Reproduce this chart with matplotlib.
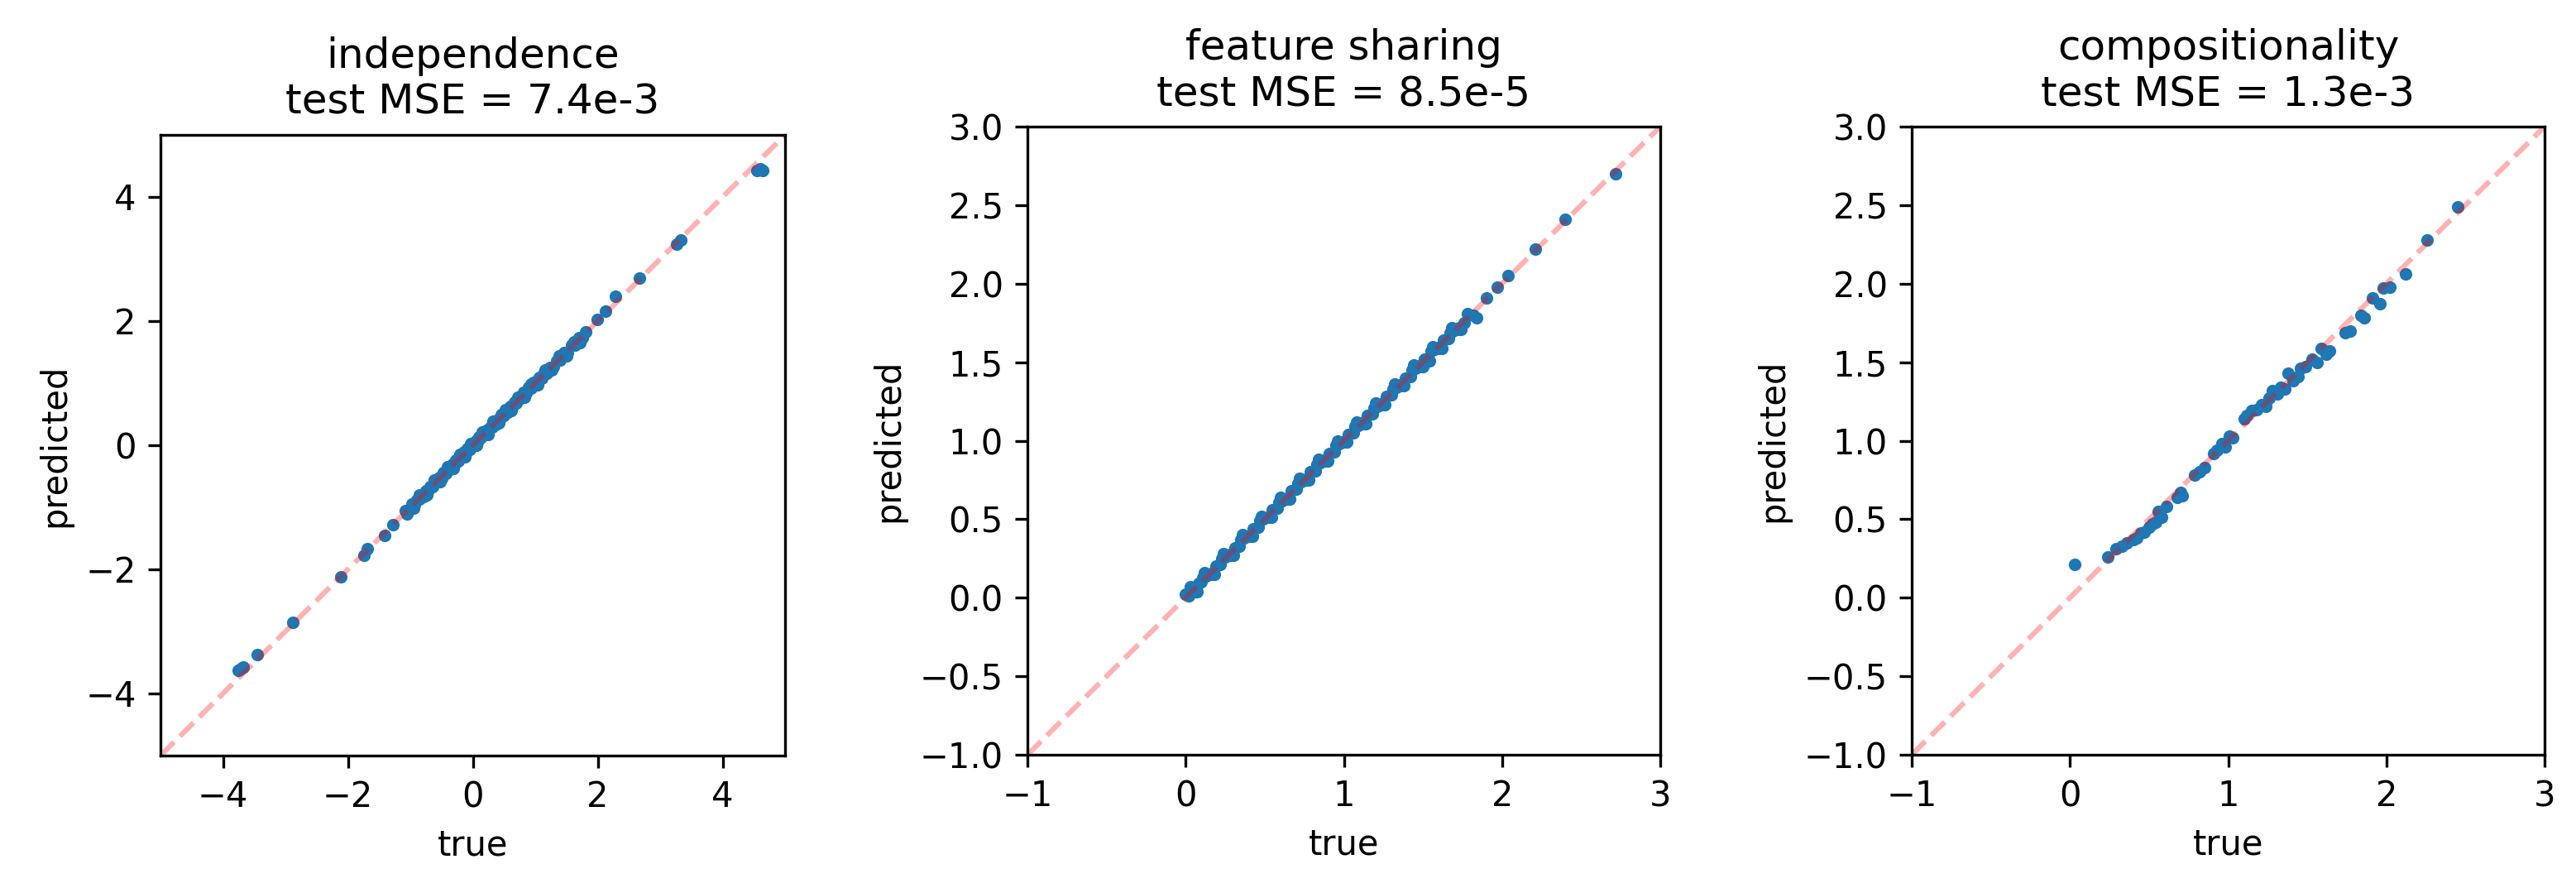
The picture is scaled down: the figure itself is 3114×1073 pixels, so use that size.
import matplotlib
matplotlib.use("Agg")
import matplotlib.pyplot as plt

titles = ["independence\ntest MSE = 7.4e-3",
          "feature sharing\ntest MSE = 8.5e-5",
          "compositionality\ntest MSE = 1.3e-3"]

true1 = [-3.76, -3.72, -3.68, -3.45, -2.88, -2.11, -1.74, -1.69, -1.41, -1.28,
         -1.08, -1.02, -0.97, -0.93, -0.90, -0.86, -0.83, -0.79, -0.75, -0.72,
         -0.68, -0.64, -0.61, -0.57, -0.54, -0.50, -0.47, -0.43, -0.40, -0.37,
         -0.33, -0.30, -0.27, -0.23, -0.20, -0.17, -0.14, -0.11, -0.08, -0.05,
         -0.02, 0.01, 0.04, 0.07, 0.10, 0.13, 0.16, 0.19, 0.22, 0.25,
         0.28, 0.31, 0.34, 0.37, 0.40, 0.43, 0.46, 0.50, 0.53, 0.56,
         0.60, 0.63, 0.67, 0.70, 0.74, 0.78, 0.82, 0.86, 0.90, 0.94,
         0.98, 1.02, 1.06, 1.10, 1.14, 1.19, 1.24, 1.29, 1.34, 1.40,
         1.46, 1.52, 1.58, 1.64, 1.70, 1.75,
         -1.05, -0.95, -0.85, -0.74, -0.62, -0.52, -0.41, -0.31, -0.21, -0.12,
         -0.03, 0.06, 0.15, 0.24, 0.33, 0.42, 0.52, 0.62, 0.72, 0.83,
         0.93, 1.04, 1.16, 1.27, 1.38, 1.50, 1.62, 1.72,
         1.81, 1.99, 2.13, 2.28, 2.67, 3.27, 3.33, 4.55, 4.60, 4.64]
pred1 = [-3.62, -3.60, -3.57, -3.37, -2.85, -2.12, -1.77, -1.67, -1.45, -1.28,
         -1.05, -1.04, -0.95, -0.96, -0.88, -0.87, -0.80, -0.82, -0.73, -0.74,
         -0.66, -0.67, -0.58, -0.59, -0.52, -0.53, -0.44, -0.45, -0.38, -0.39,
         -0.31, -0.32, -0.24, -0.25, -0.18, -0.19, -0.11, -0.13, -0.05, -0.07,
         0.01, 0.03, 0.07, 0.05, 0.13, 0.12, 0.19, 0.17, 0.24, 0.22,
         0.30, 0.29, 0.36, 0.34, 0.42, 0.41, 0.49, 0.48, 0.56, 0.54,
         0.63, 0.61, 0.70, 0.68, 0.77, 0.76, 0.85, 0.84, 0.93, 0.92,
         1.01, 1.00, 1.09, 1.08, 1.17, 1.16, 1.26, 1.27, 1.36, 1.37,
         1.49, 1.50, 1.61, 1.62, 1.73, 1.74,
         -1.11, -1.01, -0.80, -0.80, -0.56, -0.58, -0.35, -0.37, -0.15, -0.18,
         0.03, 0.00, 0.21, 0.18, 0.39, 0.36, 0.58, 0.56, 0.78, 0.77,
         0.99, 0.98, 1.22, 1.21, 1.44, 1.44, 1.67, 1.66,
         1.83, 2.03, 2.16, 2.40, 2.69, 3.24, 3.31, 4.43, 4.45, 4.43]

true2 = [0.00, 0.02, 0.04, 0.06, 0.08, 0.10, 0.13, 0.16, 0.19, 0.22,
         0.25, 0.28, 0.31, 0.34, 0.37, 0.40, 0.43, 0.46, 0.49, 0.52,
         0.55, 0.58, 0.61, 0.64, 0.67, 0.70, 0.73, 0.76, 0.79, 0.82,
         0.85, 0.88, 0.91, 0.94, 0.97, 1.00, 1.03, 1.06, 1.09, 1.12,
         1.15, 1.18, 1.21, 1.24, 1.27, 1.30, 1.33, 1.36, 1.39, 1.42,
         1.45, 1.48, 1.51, 1.54, 1.57, 1.60, 1.63, 1.66, 1.69, 1.72, 1.76,
         0.03, 0.07, 0.12, 0.18, 0.24, 0.30, 0.36, 0.42, 0.48, 0.54,
         0.60, 0.66, 0.72, 0.78, 0.84, 0.90, 0.96, 1.02, 1.08, 1.14,
         1.20, 1.26, 1.32, 1.38, 1.44, 1.50, 1.56, 1.62, 1.68, 1.74,
         0.05, 0.11, 0.17, 0.23, 0.29, 0.35, 0.41, 0.47, 0.53, 0.59,
         0.65, 0.71, 0.77, 0.83, 0.89, 0.95, 1.01, 1.07, 1.13, 1.19,
         1.25, 1.31, 1.37, 1.43, 1.49, 1.55, 1.61, 1.67, 1.73,
         1.78, 1.82, 1.84, 1.90, 1.97, 2.04, 2.21, 2.40, 2.72]
pred2 = [0.02, 0.01, 0.04, 0.05, 0.09, 0.10, 0.14, 0.15, 0.20, 0.21,
         0.26, 0.27, 0.32, 0.33, 0.38, 0.39, 0.44, 0.45, 0.50, 0.51,
         0.56, 0.57, 0.62, 0.63, 0.68, 0.69, 0.74, 0.75, 0.80, 0.81,
         0.86, 0.87, 0.92, 0.93, 0.98, 0.99, 1.04, 1.05, 1.10, 1.11,
         1.16, 1.17, 1.22, 1.23, 1.28, 1.29, 1.34, 1.35, 1.40, 1.41,
         1.46, 1.47, 1.52, 1.51, 1.58, 1.59, 1.64, 1.65, 1.70, 1.71, 1.75,
         0.07, 0.04, 0.16, 0.15, 0.28, 0.27, 0.40, 0.39, 0.52, 0.51,
         0.64, 0.63, 0.76, 0.75, 0.88, 0.87, 1.00, 0.99, 1.12, 1.11,
         1.24, 1.23, 1.36, 1.35, 1.48, 1.47, 1.60, 1.59, 1.72, 1.71,
         0.04, 0.13, 0.16, 0.25, 0.28, 0.37, 0.40, 0.49, 0.52, 0.61,
         0.64, 0.73, 0.76, 0.85, 0.88, 0.97, 1.00, 1.09, 1.12, 1.21,
         1.24, 1.33, 1.36, 1.45, 1.48, 1.57, 1.60, 1.69, 1.72,
         1.81, 1.80, 1.78, 1.91, 1.98, 2.05, 2.22, 2.41, 2.70]

true3 = [0.03, 0.24, 0.29, 0.33, 0.36, 0.40, 0.42, 0.45, 0.47, 0.50,
         0.52, 0.54, 0.56, 0.58, 0.61, 0.68, 0.70, 0.71, 0.79, 0.82,
         0.85, 0.91, 0.93, 0.96, 0.98, 1.01, 1.03, 1.10, 1.12, 1.15,
         1.18, 1.21, 1.24, 1.26, 1.28, 1.31, 1.33, 1.36, 1.38, 1.41,
         1.44, 1.46, 1.49, 1.53, 1.56, 1.59, 1.62, 1.64, 1.74, 1.77,
         1.84, 1.86, 1.91, 1.96, 1.98, 2.02, 2.12, 2.26, 2.45]
pred3 = [0.21, 0.26, 0.31, 0.33, 0.35, 0.37, 0.38, 0.41, 0.42, 0.45,
         0.47, 0.48, 0.55, 0.51, 0.58, 0.64, 0.67, 0.65, 0.78, 0.80,
         0.83, 0.92, 0.94, 0.98, 0.96, 1.03, 1.02, 1.14, 1.16, 1.19,
         1.20, 1.23, 1.22, 1.27, 1.32, 1.30, 1.34, 1.33, 1.43, 1.38,
         1.41, 1.46, 1.47, 1.52, 1.50, 1.59, 1.55, 1.57, 1.69, 1.70,
         1.80, 1.78, 1.91, 1.87, 1.97, 1.98, 2.06, 2.28, 2.49]

series = [(true1, pred1), (true2, pred2), (true3, pred3)]
limits = [(-5, 5), (-1, 3), (-1, 3)]
xticks = [[-4, -2, 0, 2, 4], [-1, 0, 1, 2, 3], [-1, 0, 1, 2, 3]]
yticks = [[-4, -2, 0, 2, 4],
          [-1.0, -0.5, 0.0, 0.5, 1.0, 1.5, 2.0, 2.5, 3.0],
          [-1.0, -0.5, 0.0, 0.5, 1.0, 1.5, 2.0, 2.5, 3.0]]

W, H = 3114, 1073
fig = plt.figure(figsize=(W / 300, H / 300), dpi=300)
boxes = [(194, 163, 949, 913), (1242, 153, 2007, 912), (2311, 153, 3076, 912)]

for i, (x0, y0, x1, y1) in enumerate(boxes):
    ax = fig.add_axes([x0 / W, 1 - y1 / H, (x1 - x0) / W, (y1 - y0) / H])
    t, p = series[i]
    ax.scatter(t, p, s=7, color="C0")
    lo, hi = limits[i]
    ax.plot([lo, hi], [lo, hi], "r--", alpha=0.3)
    ax.set_xlim(lo, hi)
    ax.set_ylim(lo, hi)
    ax.set_xticks(xticks[i])
    ax.set_yticks(yticks[i])
    ax.set_xlabel("true")
    ax.set_ylabel("predicted")
    ax.set_title(titles[i])

fig.savefig("out.png", dpi=300)
